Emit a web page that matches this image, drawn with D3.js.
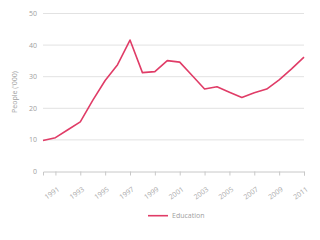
<!DOCTYPE html>
<html><head><meta charset="utf-8">
<script src="https://cdn.jsdelivr.net/npm/d3@7"></script>
<style>body{margin:0;background:#fff;} text{font-family:"Open Sans",sans-serif;}</style>
</head><body>
<svg id="c" width="320" height="240"></svg>
<script>
const years = [1990,1991,1992,1993,1994,1995,1996,1997,1998,1999,2000,2001,2002,2003,2004,2005,2006,2007,2008,2009,2010,2011];
const education = [9.8,10.7,13.2,15.7,22.5,28.8,33.8,41.6,31.3,31.6,35.1,34.6,30.4,26.1,26.8,25.1,23.4,24.9,26.1,29.0,32.5,36.2];
const yTicks = [0,10,20,30,40,50];
const xTicks = [1991,1993,1995,1997,1999,2001,2003,2005,2007,2009,2011];
const seriesName = "Education";
const yTitle = "People ('000)";

const svg = d3.select("#c");
const x = d3.scaleLinear().domain([1990,2011]).range([43,304]);
const y = d3.scaleLinear().domain([0,50]).range([171.5,13.5]);

// gridlines
svg.append("g").selectAll("line").data(yTicks.filter(d=>d>0)).join("line")
  .attr("x1",43).attr("x2",304).attr("y1",d=>y(d)).attr("y2",d=>y(d))
  .attr("stroke","#e2e2e2").attr("stroke-width",1);

// y labels
svg.append("g").selectAll("text").data(yTicks).join("text")
  .attr("x",37).attr("y",d=>y(d)).attr("dy","0.35em").attr("text-anchor","end")
  .attr("font-size",7).attr("fill","#a0a0a0").text(d=>d);

// x axis
const xa = svg.append("g").attr("transform","translate(0,171.5)")
  .call(d3.axisBottom(x).tickValues(xTicks).tickFormat(d3.format("d")).tickSize(4).tickSizeOuter(4));
xa.select(".domain").attr("stroke","#c8c8c8");
xa.selectAll(".tick line").attr("stroke","#c8c8c8");
xa.selectAll(".tick text").attr("font-size",7).attr("fill","#a8a8a8")
  .attr("font-family","Open Sans, sans-serif")
  .attr("text-anchor","end").attr("dy",0).attr("y",0)
  .attr("transform","translate(4,19) rotate(-35)");

// y title
svg.append("text").attr("transform","translate(17,92) rotate(-90)")
  .attr("text-anchor","middle").attr("font-size",7).attr("fill","#a0a0a0").text(yTitle);

// line
const line = d3.line().x((d,i)=>x(years[i])).y(d=>y(d));
svg.append("path").datum(education).attr("d",line)
  .attr("fill","none").attr("stroke","#e03c67").attr("stroke-width",1.6).attr("stroke-linejoin","round");

// legend
svg.append("line").attr("x1",148).attr("x2",168).attr("y1",215.7).attr("y2",215.7)
  .attr("stroke","#e03c67").attr("stroke-width",1.6);
svg.append("text").attr("x",172).attr("y",215.7).attr("dy","0.35em")
  .attr("font-size",7).attr("fill","#a0a0a0").text(seriesName);
</script>
</body></html>
